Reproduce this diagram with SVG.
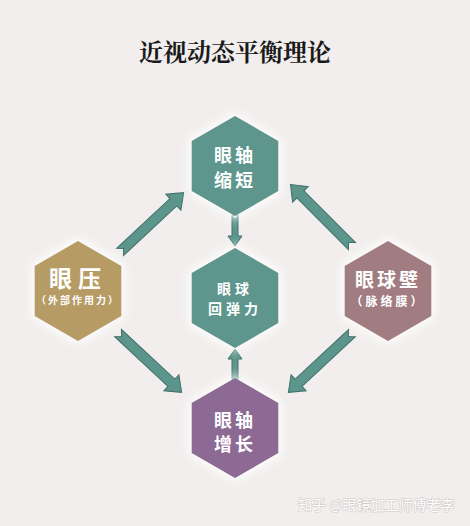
<svg xmlns="http://www.w3.org/2000/svg" xmlns:xlink="http://www.w3.org/1999/xlink" width="470" height="526" viewBox="0 0 470 526">
<style>
.title{font-family:"Noto Serif CJK SC","Noto Sans CJK SC",serif;font-weight:700;font-size:24px;fill:#1a1a1a}
.t{font-family:"Noto Sans CJK SC",sans-serif;font-weight:700;fill:#ffffff;text-anchor:middle}
.arrow{fill:#5b958c;stroke:#3f6f68;stroke-width:1}
.wm{font-family:"Noto Sans CJK SC",sans-serif;font-size:14px;fill:#ffffff;stroke:#cdc9c7;stroke-width:1;paint-order:stroke}
</style>
<defs>
<polygon id="hex" points="0,-50 43.3,-25 43.3,25 0,50 -43.3,25 -43.3,-25"/>
<filter id="glow" x="-40%" y="-40%" width="180%" height="180%">
<feGaussianBlur stdDeviation="5"/>
</filter>
<polygon id="bigArrow" points="0,-5 73,-5 73,-11 87,0 73,11 73,5 0,5 5,0"/>
<polygon id="smallArrow" points="0,-3 21,-3 21,-7 31,0 21,7 21,3 0,3"/>
</defs>
<rect width="470" height="526" fill="#f1eeed"/>
<text class="title" x="235" y="61" text-anchor="middle">近视动态平衡理论</text>

<g id="connectors">
<use href="#bigArrow" class="arrow" transform="translate(120,252) rotate(-43)"/>
<use href="#bigArrow" class="arrow" transform="translate(352,246) rotate(-135)"/>
<use href="#bigArrow" class="arrow" transform="translate(118,333) rotate(43)"/>
<use href="#bigArrow" class="arrow" transform="translate(352,333) rotate(137)"/>
<use href="#smallArrow" class="arrow" transform="translate(235,215) rotate(90)"/>
<circle cx="235" cy="216" r="2" fill="#ffffff" opacity="0.7"/>
<use href="#smallArrow" class="arrow" transform="translate(235,380) rotate(-90)"/>
</g>

<g id="node-top" transform="translate(235,166)">
<use href="#hex" fill="#ffffff" filter="url(#glow)" transform="scale(1.06)"/>
<use href="#hex" fill="#5e968d"/>
<text class="t" x="0" y="-4" font-size="18" letter-spacing="3">眼轴</text>
<text class="t" x="0" y="21" font-size="18" letter-spacing="3">缩短</text>
</g>

<g id="node-center" transform="translate(235,298)">
<use href="#hex" fill="#ffffff" filter="url(#glow)" transform="scale(1.06)"/>
<use href="#hex" fill="#5e968d"/>
<text class="t" x="0" y="-4" font-size="14" letter-spacing="4">眼球</text>
<text class="t" x="0" y="16" font-size="14" letter-spacing="4">回弹力</text>
</g>

<g id="node-bottom" transform="translate(235,428)">
<use href="#hex" fill="#ffffff" filter="url(#glow)" transform="scale(1.06)"/>
<use href="#hex" fill="#8c6a94"/>
<text class="t" x="0" y="-1" font-size="18" letter-spacing="3">眼轴</text>
<text class="t" x="0" y="23" font-size="18" letter-spacing="3">增长</text>
</g>

<g id="node-left" transform="translate(78,291)">
<use href="#hex" fill="#ffffff" filter="url(#glow)" transform="scale(1.06)"/>
<use href="#hex" fill="#b69b64"/>
<text class="t" x="0" y="-4" font-size="23" letter-spacing="6">眼压</text>
<text class="t" x="0" y="13" font-size="10" letter-spacing="2">（外部作用力）</text>
</g>

<g id="node-right" transform="translate(388,291)">
<use href="#hex" fill="#ffffff" filter="url(#glow)" transform="scale(1.06)"/>
<use href="#hex" fill="#a17c80"/>
<text class="t" x="0" y="-4" font-size="19" letter-spacing="3">眼球壁</text>
<text class="t" x="0" y="15" font-size="12" letter-spacing="3">（脉络膜）</text>
</g>

<text class="wm" x="298" y="510">知乎 @眼镜加工师傅老李</text>
</svg>
